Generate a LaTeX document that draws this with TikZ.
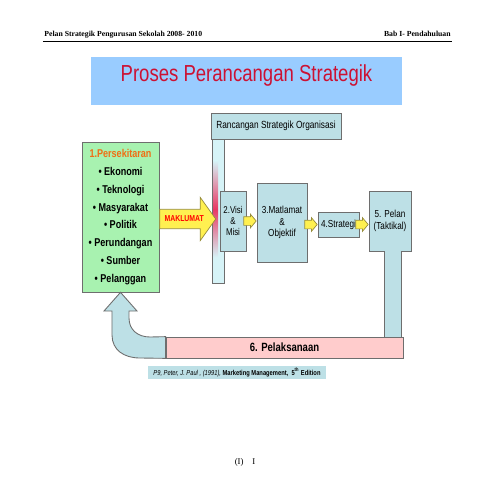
\documentclass[tikz,border=0pt]{standalone}
\usepackage{fontspec}
\setmainfont{Liberation Sans}[FakeStretch=0.8]
\newfontfamily\headfont{Liberation Serif}
\usetikzlibrary{shapes.arrows, calc, positioning}
\definecolor{titleblue}{RGB}{153, 204, 255}
\definecolor{titlered}{RGB}{204, 17, 51}
\definecolor{stageteal}{RGB}{189, 224, 230}
\definecolor{barcyan}{RGB}{214, 243, 247}
\definecolor{glowred}{RGB}{232, 56, 100}
\definecolor{envgreen}{RGB}{168, 242, 176}
\definecolor{envorange}{RGB}{240, 110, 20}
\definecolor{arrowyellow}{RGB}{255, 240, 80}
\definecolor{arrowedge}{RGB}{150, 140, 60}
\definecolor{actionpink}{RGB}{255, 204, 204}
\definecolor{boxgray}{RGB}{110, 110, 110}

\begin{document}
\begin{tikzpicture}[x=0.02cm, y=-0.02cm]
    % Define styles
    \tikzstyle{header} = [inner sep=0, font=\headfont\bfseries\fontsize{4.4}{5}\selectfont]
    \tikzstyle{stage} = [rectangle, draw=boxgray, fill=stageteal, inner sep=1pt, align=center, font=\fontsize{5.6}{6.2}\selectfont]
    \tikzstyle{smallarrow} = [single arrow, draw=arrowedge, fill=arrowyellow, inner sep=0.08cm, minimum height=0.18cm, single arrow head extend=0.05cm, single arrow tip angle=100, anchor=tip]
    \tikzstyle{band} = [draw=boxgray, line width=0.4pt, double=stageteal, double distance=0.34cm]

    \useasboundingbox (0,0) rectangle (495,495);

    % Header and footer
    \node[header, anchor=base west] (headl) at (44,36) {Pelan Strategik Pengurusan Sekolah 2008- 2010};
    \node[header, anchor=base east] (headr) at (451,36) {Bab I- Pendahuluan};
    \draw[line width=0.5pt] (43,41) -- (452,41);
    \node[header, font=\headfont\fontsize{5}{6}\selectfont] (page) at (245,462) {(I)\quad I};

    % Title
    \node[rectangle, fill=titleblue, minimum width=6.22cm, minimum height=0.96cm, text height=8pt, text depth=8pt, inner sep=0, text=titlered, font=\fontsize{13.2}{15}\selectfont] (title) at (246.5,81) {Proses Perancangan Strategik};

    % Nodes
    \node[stage, minimum width=2.6cm, minimum height=0.52cm, font=\fontsize{5.9}{6.5}\selectfont] (org) at (276,126) {Rancangan Strategik Organisasi};
    \node[rectangle, draw=boxgray, fill=barcyan, minimum width=0.24cm, minimum height=2.88cm, inner sep=0] (bar) at (218,211) {};
    \fill[top color=barcyan, bottom color=barcyan, middle color=glowred] ($(bar.north west)+(1.5,22)$) rectangle ($(bar.south west)+(6.5,-26)$);

    \node[rectangle, draw=boxgray, fill=envgreen, minimum width=1.54cm, minimum height=3cm, inner sep=0, align=center, font=\bfseries\fontsize{6.45}{10.1}\selectfont] (env) at (120.5,217)
        {\textcolor{envorange}{1.Persekitaran}\\• Ekonomi\\• Teknologi\\• Masyarakat\\• Politik\\• Perundangan\\• Sumber\\• Pelanggan};
    \node[stage, minimum width=0.52cm, minimum height=1.2cm] (visi) at (233,221) {2.Visi\\\&\\Misi};
    \node[stage, minimum width=1cm, minimum height=1.58cm, font=\fontsize{5.8}{6.5}\selectfont] (matlamat) at (282,222.5) {3.Matlamat\\\&\\Objektif};
    \node[stage, minimum width=0.82cm, minimum height=0.5cm, font=\fontsize{5.8}{6.5}\selectfont] (strategi) at (338.5,224.5) {4.Strategi};
    \node[stage, minimum width=0.84cm, minimum height=1.2cm, font=\fontsize{5.8}{6.5}\selectfont] (pelan) at (390,221) {5. Pelan\\(Taktikal)};
    \node[rectangle, draw=boxgray, fill=actionpink, minimum width=4.74cm, minimum height=0.42cm, inner sep=0, font=\bfseries\fontsize{6.8}{7.5}\selectfont] (laksana) at (284.5,347.5) {6. Pelaksanaan};
    \node[rectangle, fill=stageteal, minimum width=3.56cm, minimum height=0.26cm, inner sep=0, font=\fontsize{4.1}{4.8}\selectfont] (src) at (237,372.5)
        {\itshape P9, Peter, J. Paul , (1991), \upshape\bfseries Marketing Management, \ 5\textsuperscript{th} Edition};

    % Arrows
    \node[single arrow, draw=arrowedge, fill=arrowyellow, anchor=tail, minimum height=1.12cm, inner xsep=1pt, inner ysep=3.6pt, single arrow head extend=0.24cm, single arrow tip angle=109, text=red, font=\bfseries\fontsize{4.9}{5.4}\selectfont] (info) at ([yshift=-0.04cm]env.east) {MAKLUMAT};
    \node[smallarrow] (a23) at (matlamat.west |- visi.center) {};
    \node[smallarrow] (a34) at (strategi.west) {};
    \node[smallarrow] (a45) at (pelan.west |- strategi.center) {};
    \draw[band] ([xshift=0.06cm]pelan.south) -- ([xshift=0.06cm]pelan.south |- laksana.north);
    \draw[draw=boxgray, fill=stageteal, line width=0.5pt] (laksana.north west) -- (150,337) .. controls (138,337) and (129,330) .. (129,318) -- (129,311) -- (137,311) -- (env.south) -- (104,311) -- (112,311) -- (112,335) .. controls (112,350) and (124,358) .. (140,358) -- (laksana.south west) -- cycle;
\end{tikzpicture}
\end{document}
